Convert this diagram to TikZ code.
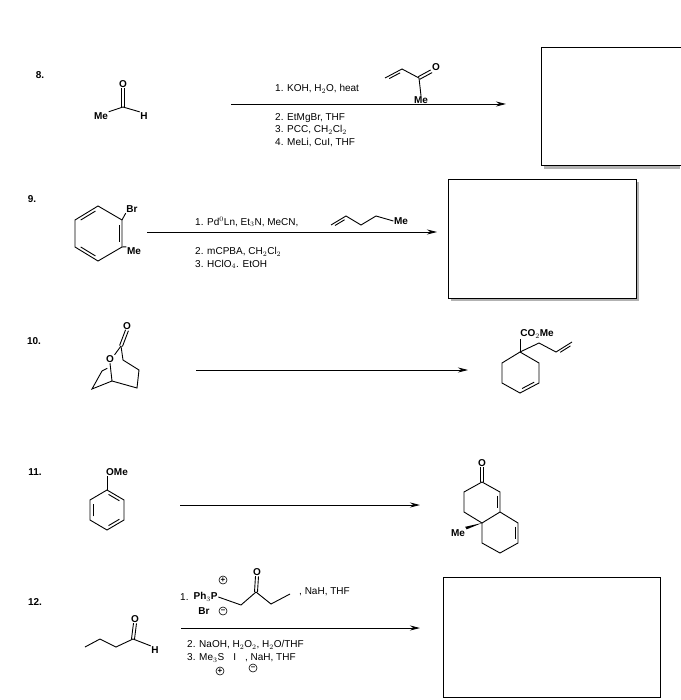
\documentclass[tikz,border=0pt]{standalone}
\usepackage{fontspec}
\setmainfont{Liberation Sans}
\usetikzlibrary{calc,arrows.meta}
\newcommand{\inb}[3]{\draw[bond] ($(#1)!0.18!(#2)!#3!90:(#2)$) -- ($(#2)!0.18!(#1)!#3!-90:(#1)$);}
\newcommand{\dbc}[2]{\draw[bond] ($(#1)!1.5pt!90:(#2)$) -- ($(#2)!1.5pt!-90:(#1)$); \draw[bond] ($(#1)!1.5pt!-90:(#2)$) -- ($(#2)!1.5pt!90:(#1)$);}
\begin{document}
\begin{tikzpicture}[x=1pt,y=-1pt,
  bond/.style={line width=0.9pt},
  atom/.style={font=\bfseries\fontsize{10}{11}\selectfont,inner sep=0.5pt},
  num/.style={font=\bfseries\fontsize{10}{11}\selectfont,inner sep=0pt},
  rg/.style={font=\fontsize{10}{12.5}\selectfont,inner sep=0pt,anchor=west,align=left},
  chg/.style={draw,circle,line width=0.6pt,minimum size=8pt,inner sep=0pt,font=\bfseries\fontsize{8}{8}\selectfont},
  rxn/.style={line width=0.9pt,-{Stealth[length=10pt,width=5pt]}},
  ansbox/.style={draw,line width=0.9pt,fill=white},
  shade/.style={fill=black!30,draw=none}]
\useasboundingbox (0,0) rectangle (680,700);
% numbers
\node[num] (n8) at (40,75) {8.};
\node[num] (n9) at (32,199) {9.};
\node[num] (n10) at (34,341) {10.};
\node[num] (n11) at (35,472) {11.};
\node[num] (n12) at (35,602) {12.};
% boxes
\fill[shade] (544,50) rectangle (680,169);
\draw[ansbox] (541,47) rectangle (684,165);
\fill[shade] (451,182) rectangle (639,301);
\draw[ansbox] (448,179) rectangle (636,298);
\draw[ansbox] (443,577) rectangle (660,697);
% arrows
\coordinate (a8s) at (231,104); \coordinate (a8e) at (506,104);
\draw[rxn] (a8s) -- (a8e);
\coordinate (a9s) at (147,232); \coordinate (a9e) at (437,232);
\draw[rxn] (a9s) -- (a9e);
\coordinate (a10s) at (196,370); \coordinate (a10e) at (468,370);
\draw[rxn] (a10s) -- (a10e);
\coordinate (a11s) at (180,505); \coordinate (a11e) at (420,505);
\draw[rxn] (a11s) -- (a11e);
\coordinate (a12s) at (181,628); \coordinate (a12e) at (420,628);
\draw[rxn] (a12s) -- (a12e);
% ---- 8 acetaldehyde
\coordinate (c8) at (123,107);
\node[atom] (o8) at (123,84) {O};
\node[atom] (me8) at (101,116) {Me};
\node[atom] (h8) at (144,116) {H};
\dbc{c8}{o8.south}
\draw[bond] (c8) -- (me8.north east);
\draw[bond] (c8) -- (h8.north west);
% reagents 8
\node[rg] (r8a) at (275,89) {1. KOH, H$_2$O, heat};
\node[rg] (r8b) at (275,130) {2. EtMgBr, THF\\3. PCC, CH$_2$Cl$_2$\\4. MeLi, CuI, THF};
\coordinate (v1) at (385,78); \coordinate (v2) at (402,69); \coordinate (v3) at (419,78);
\node[atom] (ov) at (436,67) {O};
\node[atom] (mev) at (421,100) {Me};
\draw[bond] (v1) -- (v2) -- (v3);
\inb{v1}{v2}{-2.5pt}
\dbc{v3}{ov.south west}
\draw[bond] (v3) -- (mev.north);
% ---- 9 o-bromotoluene
\coordinate (b1) at (98,206); \coordinate (b2) at (122,220); \coordinate (b3) at (122,247);
\coordinate (b4) at (98,261); \coordinate (b5) at (75,247); \coordinate (b6) at (75,220);
\draw[bond] (b1)--(b2)--(b3)--(b4)--(b5)--(b6)--cycle;
\inb{b2}{b3}{-3pt}\inb{b4}{b5}{-3pt}\inb{b6}{b1}{-3pt}
\node[atom] (br9) at (132,209) {Br};
\node[atom] (me9) at (134,251) {Me};
\draw[bond] (b2) -- (br9.south west);
\draw[bond] (b3) -- (me9.north west);
% reagents 9
\node[rg] (r9a) at (195,222) {1. Pd$^0$Ln, Et$_3$N, MeCN,};
\node[rg] (r9b) at (195,258) {2. mCPBA, CH$_2$Cl$_2$\\3. HClO$_4$. EtOH};
\coordinate (p1) at (331,225); \coordinate (p2) at (346,216); \coordinate (p3) at (361,225);
\coordinate (p4) at (376,216);
\node[atom] (mep) at (401,221) {Me};
\draw[bond] (p1)--(p2)--(p3)--(p4)--(mep.west);
\inb{p1}{p2}{-2.5pt}
% ---- 10 lactone
\node[atom] (o10) at (127,326) {O};
\coordinate (c10) at (121,346);
\node[atom] (or10) at (110,359) {O};
\coordinate (t10) at (123,360);
\coordinate (r1) at (139,370); \coordinate (r2) at (137,388);
\coordinate (bb) at (112,381);
\coordinate (l1) at (92,389); \coordinate (l2) at (102,371);
\dbc{c10}{o10.south}
\draw[bond] (c10) -- (or10.north east);
\draw[bond] (c10) -- (t10) -- (r1) -- (r2) -- (bb);
\draw[bond] (or10.south) -- (bb) -- (l1) -- (l2);
\draw[bond] (l2) -- ($(l2)!0.25!(t10)$);
% product 10
\coordinate (q) at (520,352);
\coordinate (h2) at (539,363); \coordinate (h3) at (539,383); \coordinate (h4) at (520,393);
\coordinate (h5) at (502,383); \coordinate (h6) at (502,363);
\draw[bond] (q)--(h2)--(h3)--(h4)--(h5)--(h6)--cycle;
\inb{h3}{h4}{-3pt}
\node[atom] (co2me) at (537,334) {CO$_2$Me};
\draw[bond] (q) -- (q|-co2me.south);
\coordinate (al1) at (539,343); \coordinate (al2) at (556,352); \coordinate (al3) at (572,342);
\draw[bond] (q) -- (al1) -- (al2) -- (al3);
\inb{al2}{al3}{-2.5pt}
% ---- 11 anisole
\coordinate (an1) at (107,490); \coordinate (an2) at (124,500); \coordinate (an3) at (124,520);
\coordinate (an4) at (107,530); \coordinate (an5) at (90,520); \coordinate (an6) at (90,500);
\draw[bond] (an1)--(an2)--(an3)--(an4)--(an5)--(an6)--cycle;
\inb{an1}{an2}{-3pt}\inb{an3}{an4}{-3pt}\inb{an5}{an6}{-3pt}
\node[atom] (ome) at (117,472) {OMe};
\draw[bond] (an1) -- (an1|-ome.south);
% product 11
\node[atom] (o11) at (482,463) {O};
\coordinate (k1) at (482,482); \coordinate (k2) at (500,492); \coordinate (k3) at (500,512);
\coordinate (k4) at (482,523); \coordinate (k5) at (464,512); \coordinate (k6) at (464,492);
\coordinate (m2) at (518,523); \coordinate (m3) at (518,543); \coordinate (m4) at (500,553);
\coordinate (m5) at (482,543);
\draw[bond] (k1)--(k2)--(k3)--(k4)--(k5)--(k6)--cycle;
\draw[bond] (k3)--(m2)--(m3)--(m4)--(m5)--(k4);
\dbc{k1}{o11.south}
\inb{k2}{k3}{-2.5pt}
\inb{m2}{m3}{-2.5pt}
\node[atom] (me11) at (458,533) {Me};
\fill ($(k4)$) -- ($(me11.north east)+(1,0.5)$) -- ($(me11.north east)+(-0.5,-2)$) -- cycle;
% ---- 12 butanal
\coordinate (u1) at (85,647); \coordinate (u2) at (100,639); \coordinate (u3) at (116,647);
\coordinate (u4) at (133,639);
\node[atom] (o12) at (135,619) {O};
\node[atom] (h12) at (155,650) {H};
\draw[bond] (u1)--(u2)--(u3)--(u4)--(h12.north west);
\dbc{u4}{o12.south}
% reagents 12
\node[rg] (r12a) at (180,597) {1.};
\node[atom,anchor=west] (ph3p) at (193,597) {Ph$_3$P};
\node[chg] (plus1) at (223,580) {+};
\node[atom] (br12) at (204,611) {Br};
\node[chg] (min1) at (223,611) {--};
\coordinate (w1) at (241,605); \coordinate (w2) at (256,592); \coordinate (w3) at (271,604);
\coordinate (w4) at (290,594);
\node[atom] (o12b) at (257,572) {O};
\draw[bond] (ph3p.east) -- (w1) -- (w2) -- (w3) -- (w4);
\dbc{w2}{o12b.south}
\node[rg] (r12b) at (299,592) {, NaH, THF};
\node[rg] (r12c) at (187,645) {2. NaOH, H$_2$O$_2$, H$_2$O/THF};
\node[rg] (r12d) at (187,658) {3. Me$_3$S\hspace{0.9em}I\hspace{0.9em}, NaH, THF};
\node[chg] (plus2) at (220,671) {+};
\node[chg] (min2) at (253,668) {--};
\end{tikzpicture}
\end{document}
